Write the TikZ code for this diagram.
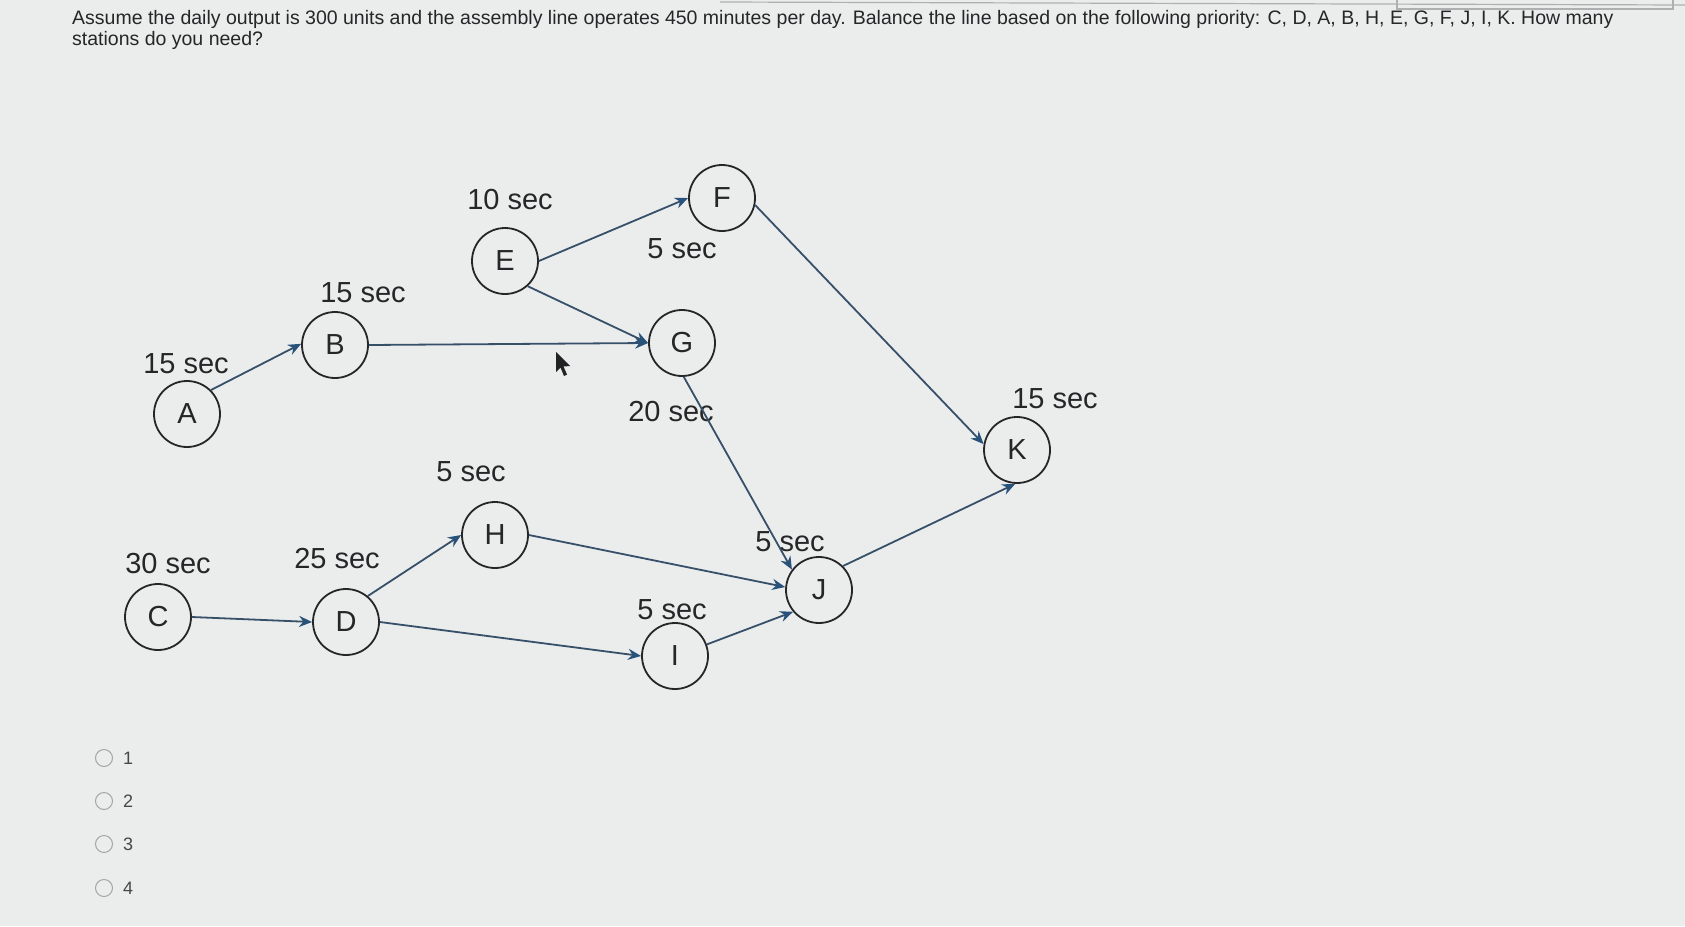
\documentclass[tikz,border=0pt]{standalone}
\usepackage{fontspec}
\setmainfont{Liberation Sans}
\usetikzlibrary{arrows.meta}
\definecolor{bg}{RGB}{235,236,236}
\definecolor{edgec}{RGB}{55,80,106}
\definecolor{headc}{RGB}{40,82,122}
\definecolor{ink}{RGB}{38,38,40}
\definecolor{radio}{RGB}{165,165,165}
\definecolor{frame}{RGB}{175,175,178}
\begin{document}
\begin{tikzpicture}[x=1pt,y=-1pt,
  stn/.style={circle,draw=ink,line width=1.8pt,minimum size=66pt,inner sep=0pt,font=\fontsize{29}{34}\selectfont,text=ink},
  lbl/.style={font=\fontsize{29}{34}\selectfont,text=ink,inner sep=0pt},
  arr/.style={draw=edgec,line width=1.8pt,-{Stealth[length=13pt,width=11pt,color=headc]}},
  opt/.style={circle,draw=radio,line width=1pt,minimum size=17pt,inner sep=0pt},
  optlbl/.style={font=\fontsize{18}{22}\selectfont,text=ink!85,inner sep=0pt,anchor=west},
  ttl/.style={font=\fontsize{19.5}{23}\selectfont,text=ink,inner sep=0pt,anchor=base west}]
\fill[bg] (0,0) rectangle (1685,926);
\useasboundingbox (0,0) rectangle (1685,926);
% screen edge artifacts
\draw[frame,line width=1.2pt] (720,2) -- (1685,5);
\draw[frame,line width=1.2pt] (1397,0) -- (1397,9) -- (1673,9) -- (1673,0);
% title
\node[ttl] (t1) at (72,24) {Assume the daily output is 300 units and the assembly line operates 450 minutes per day. Balance the line based on the following priority: C, D, A, B, H, E, G, F, J, I, K. How many};
\node[ttl] (t2) at (72,45) {stations do you need?};
% stations
\node[stn] (A) at (187,414) {A};
\node[stn] (B) at (335,345) {B};
\node[stn] (E) at (505,261) {E};
\node[stn] (F) at (722,198) {F};
\node[stn] (G) at (682,343) {G};
\node[stn] (K) at (1017,450) {K};
\node[stn] (C) at (158,617) {C};
\node[stn] (D) at (346,622) {D};
\node[stn] (H) at (495,535) {H};
\node[stn] (I) at (675,656) {I};
\node[stn] (J) at (819,590) {J};
% times
\node[lbl] (tE) at (510,200) {10 sec};
\node[lbl] (tF) at (682,249) {5 sec};
\node[lbl] (tB) at (363,293) {15 sec};
\node[lbl] (tA) at (186,364) {15 sec};
\node[lbl] (tG) at (671,412) {20 sec};
\node[lbl] (tK) at (1055,399) {15 sec};
\node[lbl] (tH) at (471,472) {5 sec};
\node[lbl] (tC) at (168,564) {30 sec};
\node[lbl] (tD) at (337,559) {25 sec};
\node[lbl] (tJ) at (790,542) {5 sec};
\node[lbl] (tI) at (672,610) {5 sec};
% precedence arrows
\draw[arr] (A.45) -- (B.178);
\draw[arr] (B.east) -- (G.west);
\draw[arr] (E.east) -- (F.west);
\draw[arr] (E.-48) -- (G.west);
\draw[arr] (F.-12) -- (K.170);
\draw[arr] (G.-87) -- (J.143);
\draw[arr] (C.east) -- (D.west);
\draw[arr] (D.50) -- (H.west);
\draw[arr] (D.east) -- (I.west);
\draw[arr] (H.east) -- (J.175);
\draw[arr] (I.20) -- (J.-140);
\draw[arr] (J.45) -- (K.-93);
% mouse pointer
\fill[ink!90!black] (556,352) -- (556,372) -- (560.5,367.5) -- (564,376) -- (567,374.5) -- (563.5,366.5) -- (570,366) -- cycle;
% answer options
\node[opt] (o1) at (104,758) {};
\node[opt] (o2) at (104,801) {};
\node[opt] (o3) at (104,844) {};
\node[opt] (o4) at (104,888) {};
\node[optlbl] (l1) at (123,758) {1};
\node[optlbl] (l2) at (123,801) {2};
\node[optlbl] (l3) at (123,844) {3};
\node[optlbl] (l4) at (123,888) {4};
\end{tikzpicture}
\end{document}
